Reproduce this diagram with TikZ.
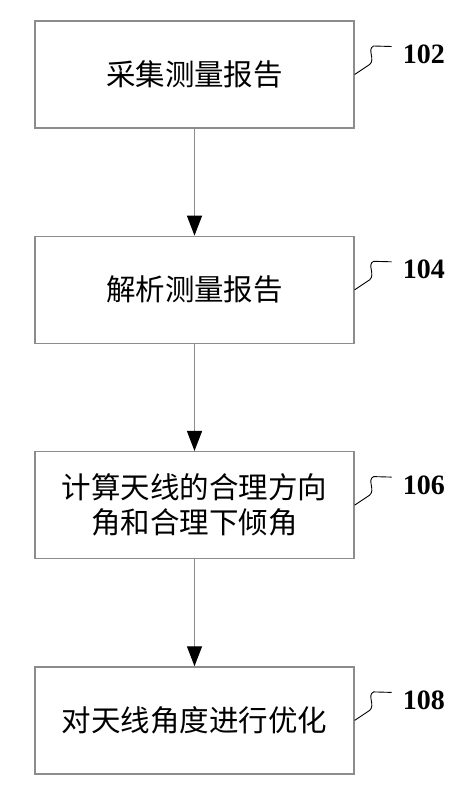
\documentclass[tikz,border=0pt]{standalone}
\usepackage{fontspec}
\setmainfont{Liberation Serif}
\newfontfamily\cjk{Noto Sans CJK SC}
\usetikzlibrary{arrows.meta,positioning,calc}
\definecolor{BoxGray}{RGB}{140,140,140}
\begin{document}
\begin{tikzpicture}[x=1pt,y=1pt,node distance=107pt,
 b/.style={draw=BoxGray,line width=1.3pt,minimum width=319pt,minimum height=107pt,align=center,font=\cjk\fontsize{29.5}{35}\selectfont},
 tag/.style={font=\bfseries\fontsize{28}{30}\selectfont,anchor=west,inner sep=0pt},
 lead/.style={draw=black,line width=0.9pt},
 flow/.style={draw=BoxGray,line width=1.4pt,-{Triangle[length=20pt,width=15pt,color=black]}}]
\useasboundingbox (0,0) rectangle (474,-788);
\node[b] (b1) at (194.5,-74.5) {采集测量报告};
\node[b,below=of b1] (b2) {解析测量报告};
\node[b,below=of b2] (b3) {计算天线的合理方向\\角和合理下倾角};
\node[b,below=of b3] (b4) {对天线角度进行优化};
\draw[flow] (b1) -- (b2);
\draw[flow] (b2) -- (b3);
\draw[flow] (b3) -- (b4);
% step numbers
\foreach \i/\n in {1/102,2/104,3/106,4/108}{
  \node[tag] (n\i) at ($(b\i.east)+(48,20)$) {\n};
  \draw[lead] (b\i.east) -- ++(15,10) .. controls +(6,5) and +(-7,-3) .. ++(4,18.5) -- ([shift={(-11,8)}]n\i.west);
}
\end{tikzpicture}
\end{document}
